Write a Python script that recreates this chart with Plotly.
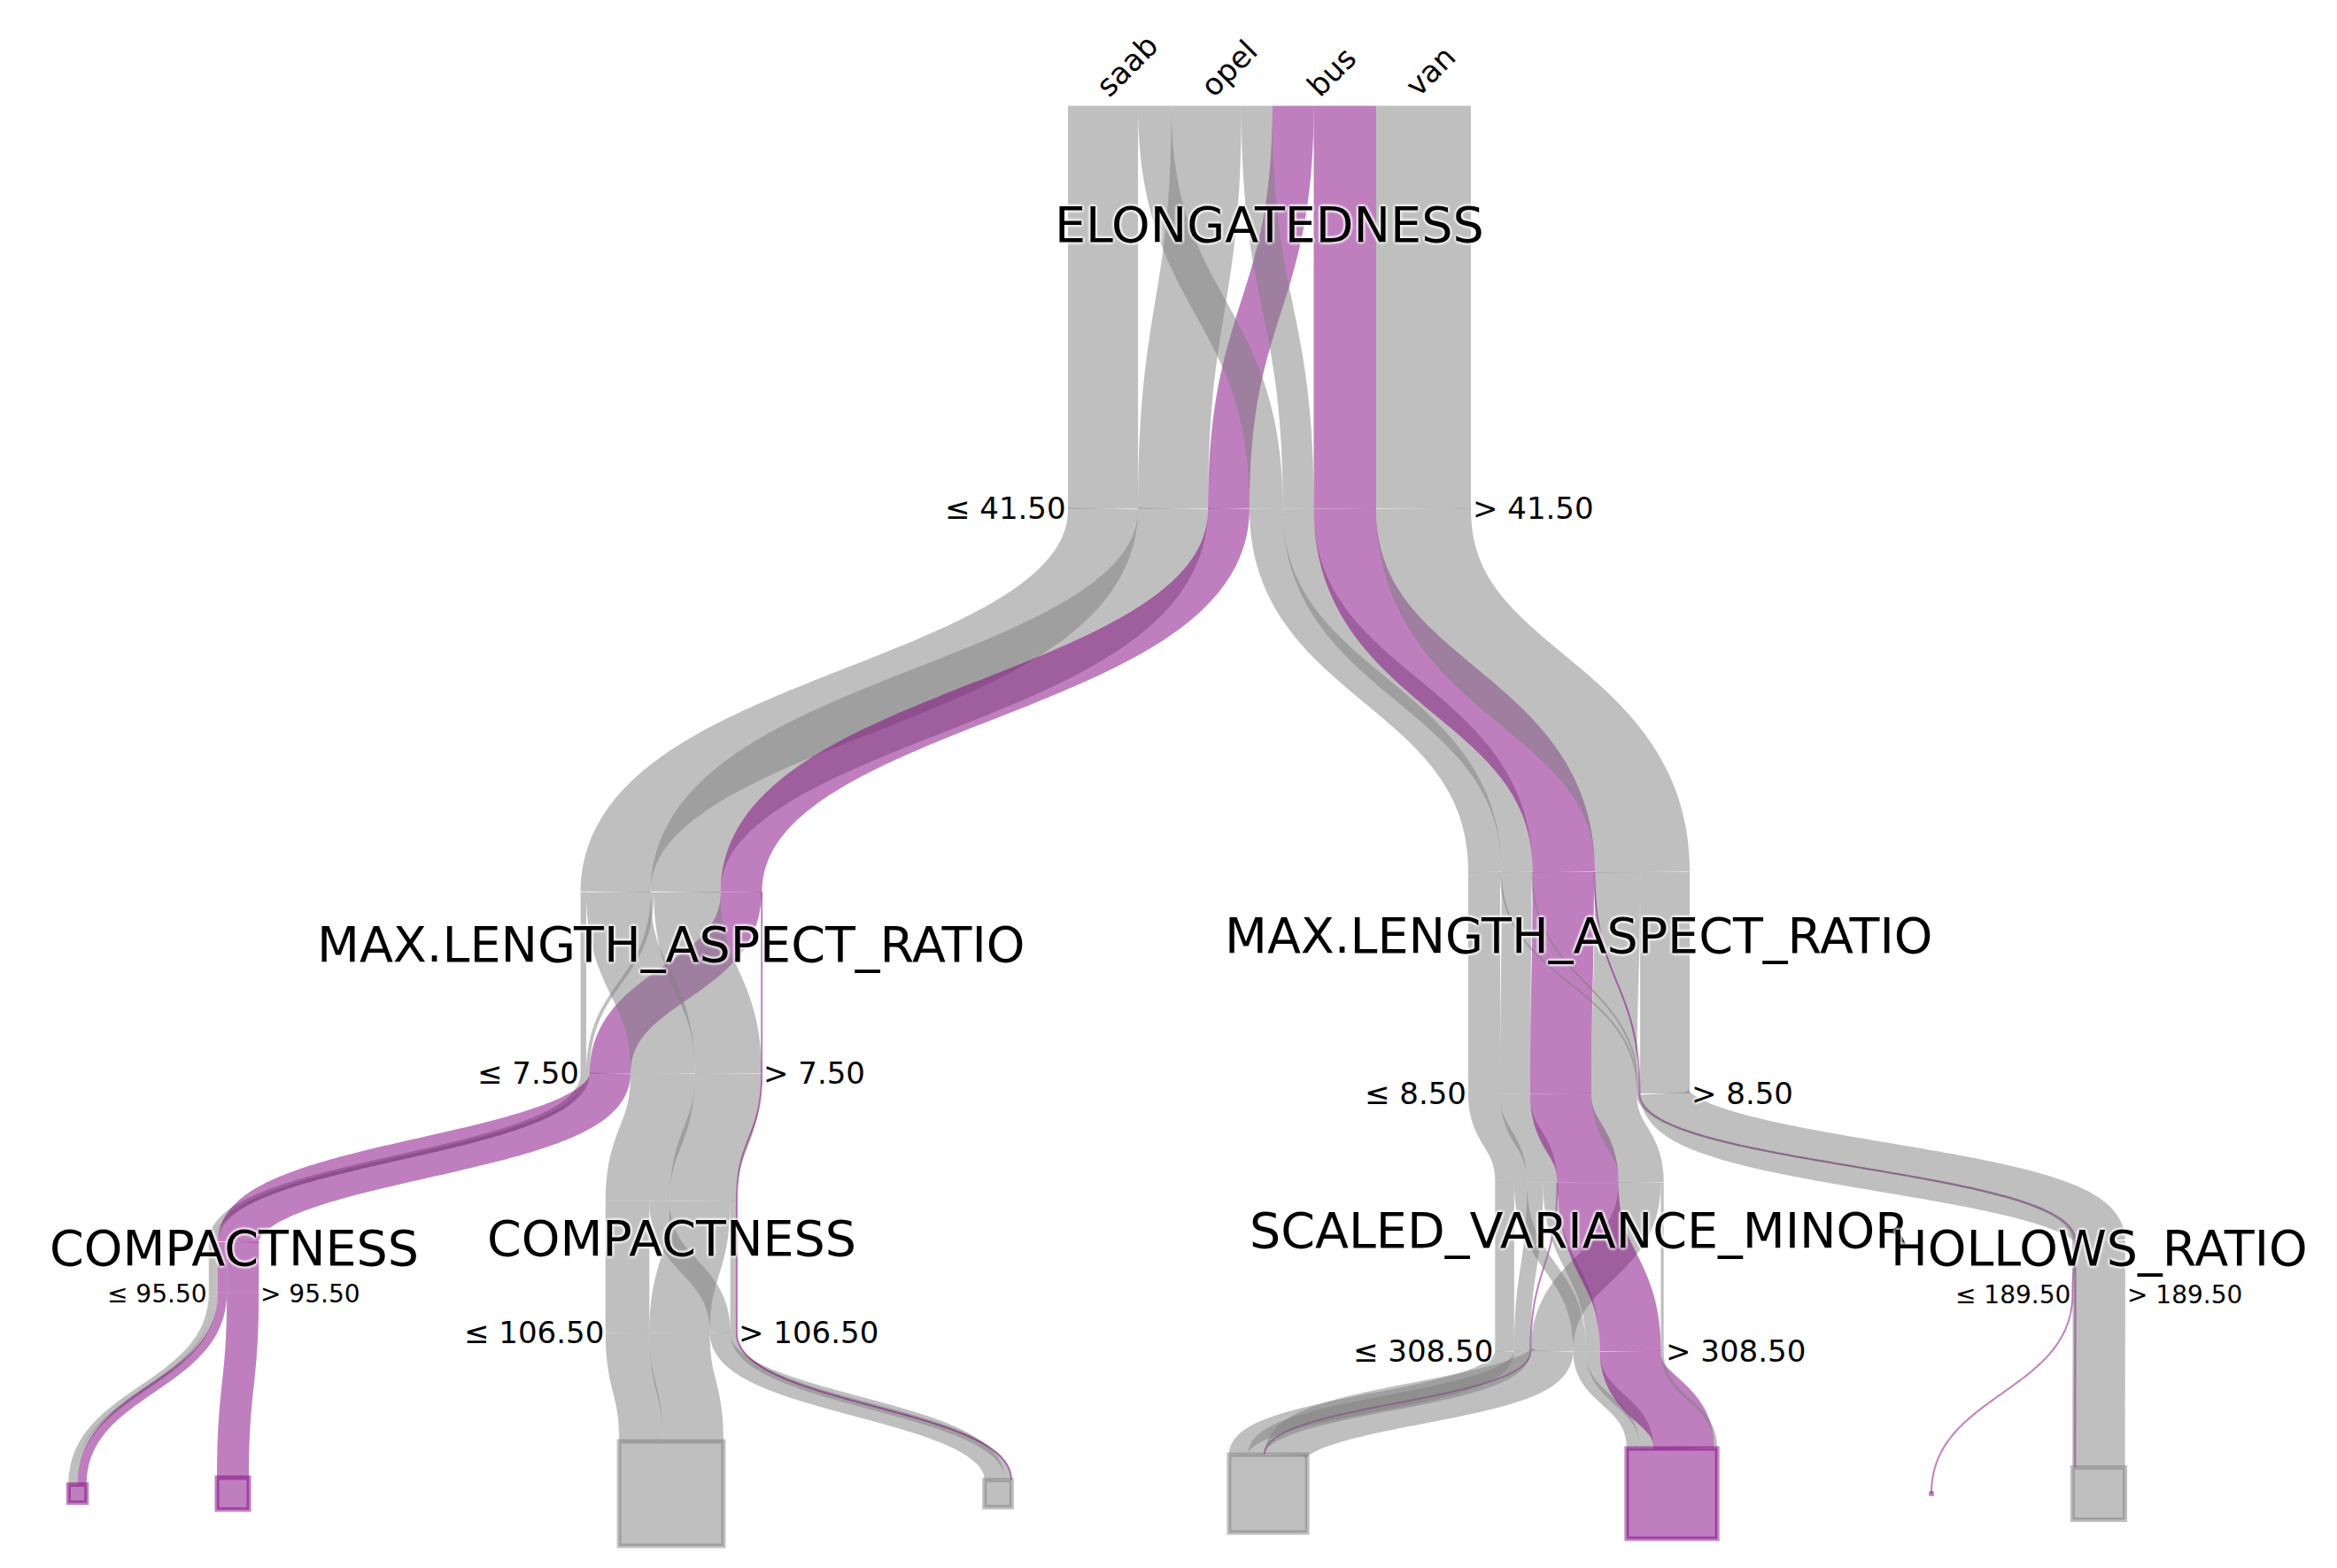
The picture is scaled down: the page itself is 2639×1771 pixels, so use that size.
import numpy as np
import plotly.graph_objects as go

# ---------------- data ----------------
CLASSES = ["saab", "opel", "bus", "van"]
HIGHLIGHT_CLASS = "bus"

# class counts per leaf, order = CLASSES
LEAF_LLL = [12, 7, 19, 0]
LEAF_LLR = [0, 0, 67, 0]
LEAF_LRL = [92, 127, 0, 0]
LEAF_LRR = [43, 13, 1, 0]
LEAF_RLL = [40, 34, 1, 89]
LEAF_RLR = [27, 29, 128, 6]
LEAF_RRL = [0, 0, 1, 0]
LEAF_RRR = [3, 2, 1, 104]

INTERNAL_NODES = ["root", "L", "R", "LL", "LR", "RL", "RR"]
SPLIT_FEATURES = ["ELONGATEDNESS", "MAX.LENGTH_ASPECT_RATIO", "MAX.LENGTH_ASPECT_RATIO",
                  "COMPACTNESS", "COMPACTNESS", "SCALED_VARIANCE_MINOR", "HOLLOWS_RATIO"]
SPLIT_THRESHOLDS = [41.50, 7.50, 8.50, 95.50, 106.50, 308.50, 189.50]

LEAVES = {"LLL": LEAF_LLL, "LLR": LEAF_LLR, "LRL": LEAF_LRL, "LRR": LEAF_LRR,
          "RLL": LEAF_RLL, "RLR": LEAF_RLR, "RRL": LEAF_RRL, "RRR": LEAF_RRR}

# ---------------- layout (pixels) ----------------
W, H = 2639, 1771
PX_PER_SAMPLE = 0.5378
MIN_BAND = 2.0
NODE_CX = {"root": 1433.5, "L": 758, "R": 1783, "LL": 264, "LR": 758, "RL": 1783.5, "RR": 2370,
           "LLL": 87.5, "LLR": 263, "LRL": 758, "LRR": 1127, "RLL": 1432, "RLR": 1888,
           "RRL": 2181, "RRR": 2370}
LEVEL_CY = [347, 1110, 1431, 1687]
FONT = "DejaVu Sans"
GRAY = "rgba(128,128,128,0.5)"
PURPLE = "rgba(128,0,128,0.5)"
OUTLINE = ", ".join(f"{dx}px {dy}px 1px rgba(255,255,255,0.32)" for dx, dy in
                    [(3, 0), (-3, 0), (0, 3), (0, -3), (2, 2), (2, -2), (-2, 2), (-2, -2)])


def color_of(k):
    return PURPLE if CLASSES[k] == HIGHLIGHT_CLASS else GRAY


def depth(name):
    return 0 if name == "root" else len(name)


def children(name):
    base = "" if name == "root" else name
    return base + "L", base + "R"


def counts(name):
    if name in LEAVES:
        return np.array(LEAVES[name], dtype=float)
    a, b = children(name)
    return counts(a) + counts(b)


def width(name):
    return counts(name).sum() * PX_PER_SAMPLE


def top_y(name):
    return LEVEL_CY[depth(name)] - width(name) / 2


def bezier(x0, y0, x1, y1, n=120):
    t = np.linspace(0, 1, n)
    ym = (y0 + y1) / 2
    x = (1 - t) ** 3 * x0 + 3 * (1 - t) ** 2 * t * x0 + 3 * (1 - t) * t ** 2 * x1 + t ** 3 * x1
    y = (1 - t) ** 3 * y0 + 3 * (1 - t) ** 2 * t * ym + 3 * (1 - t) * t ** 2 * ym + t ** 3 * y1
    return x, y


fig = go.Figure()


def band(x0, y0, x1, y1, w, col):
    if w <= 0:
        return
    x, y = bezier(x0, y0, x1, y1)
    fig.add_trace(go.Scatter(x=x, y=y, mode="lines",
                             line=dict(color=col, width=max(w, MIN_BAND), simplify=False),
                             hoverinfo="skip", showlegend=False))


annotations = []


def label(x, y, text, size, xanchor, shadow=True, **kw):
    font = dict(family=FONT, size=size, color="black")
    if shadow:
        font["shadow"] = OUTLINE
    annotations.append(dict(x=x, y=y, text=text, xanchor=xanchor, showarrow=False,
                            borderpad=0, borderwidth=0, font=font, **kw))


for idx, node in enumerate(INTERNAL_NODES):
    c = counts(node)
    a, b = children(node)
    cl, cr = counts(a), counts(b)
    w = width(node)
    left = NODE_CX[node] - w / 2
    top = top_y(node)
    split = top + w
    s = PX_PER_SAMPLE
    wl = cl.sum() * s
    top_pos = {}
    split_pos = {}
    for k in range(len(CLASSES)):
        start = left + c[:k].sum() * s
        top_pos[(0, k)] = start + cl[k] * s / 2
        top_pos[(1, k)] = start + cl[k] * s + cr[k] * s / 2
        split_pos[(0, k)] = left + cl[:k].sum() * s + cl[k] * s / 2
        split_pos[(1, k)] = left + wl + cr[:k].sum() * s + cr[k] * s / 2
    for side, cc in ((0, cl), (1, cr)):
        for k in range(len(CLASSES)):
            band(top_pos[(side, k)], top, split_pos[(side, k)], split, cc[k] * s, color_of(k))
    for side, ch in ((0, a), (1, b)):
        cc = counts(ch)
        wc = width(ch)
        cleft = NODE_CX[ch] - wc / 2
        ctop = top_y(ch)
        for k in range(len(CLASSES)):
            band(split_pos[(side, k)], split, cleft + cc[:k].sum() * s + cc[k] * s / 2, ctop,
                 cc[k] * s, color_of(k))

    small = w < 100
    fsz = 28 if small else 34
    ylab = top + 0.30 * w - 3 - (7 if small else 0)
    ythr = split + (2 if small else 0)
    label(NODE_CX[node], ylab, SPLIT_FEATURES[idx], 55.5, "center", yanchor="middle")
    thr = SPLIT_THRESHOLDS[idx]
    label(left - 2, ythr, f"≤ {thr:.2f}", fsz, "right", yanchor="middle")
    label(left + w + 2, ythr, f"> {thr:.2f}", fsz, "left", yanchor="middle")

# leaf boxes
for name in LEAVES:
    c = counts(name)
    w = width(name)
    cx, cy = NODE_CX[name], LEVEL_CY[3]
    col = color_of(int(np.argmax(c)))
    xs = [cx - w / 2, cx + w / 2, cx + w / 2, cx - w / 2, cx - w / 2, cx + w / 2]
    ys = [cy - w / 2, cy - w / 2, cy + w / 2, cy + w / 2, cy - w / 2, cy - w / 2]
    fig.add_trace(go.Scatter(x=xs, y=ys, mode="lines", fill="toself", fillcolor=col,
                             line=dict(color=col, width=5, simplify=False),
                             hoverinfo="skip", showlegend=False))

# class labels above root
c = counts("root")
w = width("root")
left = NODE_CX["root"] - w / 2
for k, name in enumerate(CLASSES):
    xc = left + c[:k].sum() * PX_PER_SAMPLE + c[k] * PX_PER_SAMPLE / 2 + 8
    label(xc, top_y("root") - 3, name, 34, "center", shadow=False, textangle=-45,
          yanchor="bottom")

fig.update_layout(
    width=W, height=H, autosize=False,
    margin=dict(l=0, r=0, t=0, b=0),
    paper_bgcolor="white", plot_bgcolor="white",
    xaxis=dict(range=[0, W], visible=False, fixedrange=True),
    yaxis=dict(range=[H, 0], visible=False, fixedrange=True),
    annotations=annotations,
)

fig.write_html("out.html", config={"displayModeBar": False},
               post_script="document.body.style.margin='0';")
